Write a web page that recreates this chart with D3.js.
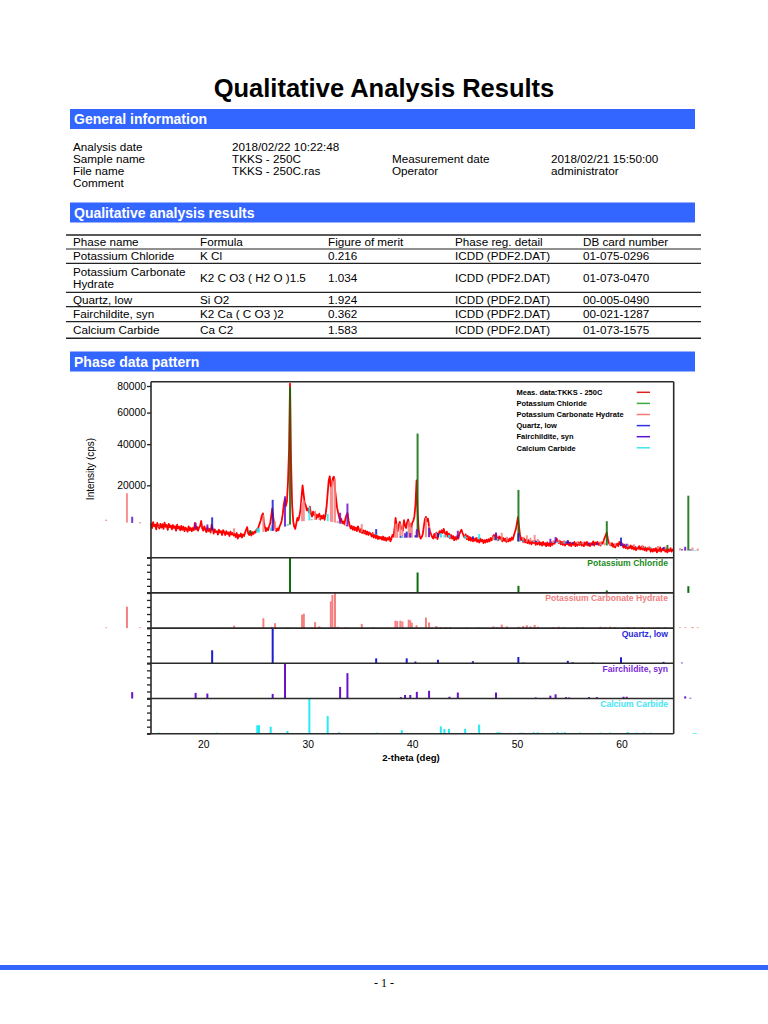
<!DOCTYPE html>
<html><head><meta charset="utf-8">
<script src="https://cdn.jsdelivr.net/npm/d3@7"></script>
<style>body{margin:0;background:#fff}</style>
</head><body><svg id="page" width="768" height="1024"></svg>
<script>
// ---------------- data ----------------
const pageTitle = "Qualitative Analysis Results";
const sectionTitles = ["General information", "Qualitative analysis results", "Phase data pattern"];
const infoLeft = [["Analysis date", "2018/02/22 10:22:48"], ["Sample name", "TKKS - 250C"], ["File name", "TKKS - 250C.ras"], ["Comment", ""]];
const infoRight = [null, ["Measurement date", "2018/02/21 15:50:00"], ["Operator", "administrator"], null];
const tableHeader = ["Phase name", "Formula", "Figure of merit", "Phase reg. detail", "DB card number"];
const tableRows = [
  [["Potassium Chloride"], "K Cl", "0.216", "ICDD (PDF2.DAT)", "01-075-0296"],
  [["Potassium Carbonate", "Hydrate"], "K2 C O3 ( H2 O )1.5", "1.034", "ICDD (PDF2.DAT)", "01-073-0470"],
  [["Quartz, low"], "Si O2", "1.924", "ICDD (PDF2.DAT)", "00-005-0490"],
  [["Fairchildite, syn"], "K2 Ca ( C O3 )2", "0.362", "ICDD (PDF2.DAT)", "00-021-1287"],
  [["Calcium Carbide"], "Ca C2", "1.583", "ICDD (PDF2.DAT)", "01-073-1575"]
];
const measLabel = "Meas. data:TKKS - 250C";
const phaseNames = ["Potassium Chloride", "Potassium Carbonate Hydrate", "Quartz, low", "Fairchildite, syn", "Calcium Carbide"];
const yTicks = [20000, 40000, 60000, 80000];
const xTicks = [20, 30, 40, 50, 60];
const xTitle = "2-theta (deg)";
const yTitle = "Intensity (cps)";
const pageNumber = "- 1 -";

// measured scan: start angle, step (deg) and counts (cps), one row per degree
const scanStart = 15.0, scanStep = 0.1;
const measuredCounts = [
7600,6500,7900,6900,7300,6200,7700,7000,6400,7500,
6600,7400,6300,7800,6800,7200,6100,7500,6700,7100,
6200,7200,6500,6900,5900,7300,6400,6800,6000,7000,
6100,6800,5800,6600,6200,5700,6900,6000,6500,5800,
6500,6000,7700,6200,6800,5900,6600,7000,8200,6400,
5900,6900,6200,5600,6700,5800,6300,5500,7300,6400,
5300,6200,5600,5900,5100,6100,5500,5800,5000,6000,
5600,5000,5800,5200,5500,4800,5700,5100,5400,4900,
5200,4600,5400,4300,5000,4700,5300,4500,5100,4800,
5500,6100,6700,5300,5000,5800,4900,5600,5200,5700,
5500,6200,6000,6900,7600,8400,9600,10300,7900,6600,
5800,6500,6000,6900,7600,9500,11800,9000,7200,6300,
5800,6400,6000,6900,7400,8300,10000,13000,14800,12500,
14000,21000,36000,82000,30000,13000,8200,6800,6300,7600,
9000,8400,9600,11500,15500,20000,16500,13500,12800,11200,
11800,10600,12300,10200,9400,10800,9800,10400,8800,9900,
9200,10200,8600,9600,8900,9800,8500,10000,12500,17000,
22000,23800,19500,20800,23000,23600,18500,15000,12000,10500,
9200,8200,8800,7600,8100,7400,8900,9800,10400,8300,
7200,6400,7000,6100,6800,6000,6600,5800,6900,6100,
5600,6300,5400,6000,5300,5900,5100,5700,5000,5500,
5200,4700,5400,4500,5000,4400,4900,4200,4700,4300,
4600,4100,4700,4000,4500,3900,4400,4100,4600,3800,
4300,5000,4700,6500,9000,7000,5800,7200,8000,6300,
6800,5900,8400,7100,6500,7900,8600,6900,7500,6600,
7800,8300,9500,13000,22000,11000,6200,4800,4300,4600,
5200,6900,8700,9300,8200,8800,6800,5600,5100,4600,
4300,5200,4500,5500,4200,5000,5800,5300,6000,5400,
6300,5500,5000,5700,4700,5300,4400,5000,4300,4800,
4000,4600,4100,4800,4300,5200,5700,6100,5400,4900,
4500,5100,4200,4800,4000,4600,3900,4400,3800,4300,
3900,4400,3700,4200,3600,4300,3800,4100,3500,4000,
3600,4100,3700,4200,3800,4400,4000,4700,5000,4600,
5200,4400,4000,4700,4200,4600,3800,4400,3900,4300,
3700,4200,3800,4300,3900,4500,4100,4800,5500,6200,
7600,9200,6800,5000,4000,4400,3700,4300,3600,4100,
3500,4000,3400,3900,3300,3800,3500,3900,3200,3700,
3300,3800,3200,3600,3100,3700,3200,3500,3000,3600,
3100,3500,3000,3600,3200,3700,3400,3900,4300,3800,
3500,3900,3300,3700,3200,3800,3100,3600,3300,3700,
3100,3600,3000,3500,3200,3700,3000,3500,3100,3600,
3200,3700,3100,3500,3000,3600,3200,3700,3100,3400,
3000,3500,3200,3800,3100,3600,3300,3700,3200,3500,
3100,3600,3400,3900,4500,5000,5500,4200,3500,3200,
3100,3500,2900,3300,2800,3200,3400,3000,3700,3300,
3600,3100,2800,3200,2700,3100,2600,3000,2700,3100,
2600,3000,2500,2900,2400,2800,2600,3000,2500,2900,
2500,2900,2400,2800,2300,2700,2500,2800,2200,2600,
2200,2600,2300,2700,2100,2500,2300,2800,2200,2600,
2400,2700,2200,2600,2100,2500,2300,2700,2200,2500,
2400
];

// background estimate under the pattern [2theta, cps]
const background = [[10,8400],[12.7,7800],[14,7600],[15,7000],[20,6200],[24,5100],[27,6000],[29,8000],[31,8600],[33,7600],
  [35,5700],[38,4400],[42,4600],[45,4300],[50,3800],[55,3400],[60,3000],[65,2400],[68,2300]];

// reference sticks [2theta, relative intensity %]
const sticksKCl = [[24.5,1],[28.3,100],[40.5,58],[47.9,1],[50.15,20],[58.6,7],[64.4,1],[66.4,19]];
const sticksPCH = [[10.7,2],[12.7,61],[13.95,2],[21.3,1],[22.95,7],[25.75,28],[26.55,4],[26.87,14],[28.1,2],[29.45,38],
  [29.62,41],[30.38,2],[30.7,17],[31.1,5],[32.2,76],[32.35,94],[32.6,100],[32.86,4],[33.57,2],[33.73,2],[35.16,12],[36.27,2],
  [38.38,21],[38.55,20],[38.85,21],[39.05,19],[39.65,24],[39.8,22],[39.95,15],[40.4,8],[41.3,30],[41.6,16],[42.3,6],[42.75,3],
  [43.2,3],[43.6,3],[45.2,2],[46.3,3],[47.75,5],[48.1,3],[48.55,10],[49.04,5],[50.15,4],[50.6,6],[50.95,8],[51.3,5],[51.7,9],
  [52.0,4],[53.5,3],[54.0,4],[54.5,3],[55.8,3],[56.3,3],[58.0,4],[58.4,3],[58.9,4],[59.4,3],[60.6,3],[61.2,3],[62.0,3],[62.6,2],
  [63.5,3],[64.2,3],[65.6,2],[66.1,2],[66.8,3],[67.3,2]];
const sticksQuartz = [[20.85,37],[26.64,100],[36.54,14],[39.46,14],[40.29,5],[42.45,10],[45.79,6],[50.14,18],[50.62,2],
  [54.87,7],[55.33,3],[57.24,2],[59.96,17],[64.03,4],[65.8,2]];
const sticksFair = [[13.2,18],[19.27,16],[20.39,14],[26.64,13],[27.82,100],[33.09,33],[33.79,72],[38.9,4],[39.3,10],[39.8,10],
  [40.43,19],[41.6,22],[43.55,5],[44.35,17],[48.0,17],[51.8,3],[53.2,8],[53.7,12],[54.7,4],[55.0,3],[56.9,4],[57.65,4],
  [60.2,5],[60.5,5],[66.1,6],[66.6,2]];
const sticksCaC2 = [[15.77,3],[21.28,3],[25.17,24],[25.33,24],[26.45,20],[28.05,8],[30.15,100],[31.9,50],[33.0,4],[35.4,2],
  [36.6,3],[38.99,10],[42.72,21],[43.07,13],[43.5,14],[45.05,14],[46.39,26],[48.15,4],[48.35,4],[50.3,3],[50.6,3],[51.6,4],
  [52.0,4],[53.4,3],[53.9,4],[54.3,3],[54.6,4],[56.05,3],[58.0,3],[58.9,3],[60.6,5],[61.5,3],[62.2,3],[62.8,3],[66.9,2],[67.1,2]];
const phaseSticks = [sticksKCl, sticksPCH, sticksQuartz, sticksFair, sticksCaC2];
// cps that 100 % corresponds to in the overlay on the measured pattern
const overlayScale = [72000, 15000, 8700, 9000, 4000];

// ---------------- styles / layout ----------------
const FONT = "'Liberation Sans', Arial, Helvetica, sans-serif";
const BLUE = "#3366ff";
const measColor = "#ff0000";
const phaseColors = ["#0b6e0b", "#f58080", "#1c1cd0", "#6812cc", "#22eaf6"];
const labelColors = ["#1a8a1a", "#f08080", "#2a2ad8", "#7a28d8", "#44e4f4"];
const legendColors = ["#dd2222", "#3daa3d", "#f07878", "#3030e0", "#6010d0", "#40e8f0"];

const svg = d3.select("#page");

function txt(x, y, s, font, opts = {}) {
  return svg.append("text").attr("x", x).attr("y", y)
    .attr("text-anchor", opts.anchor || "start")
    .attr("fill", opts.fill || "#000")
    .style("font", font).text(s);
}

// title
txt(384, 97, pageTitle, `bold 25.5px ${FONT}`, {anchor: "middle"});

// section bars
const barTops = [109, 202.5, 351.5];
sectionTitles.forEach((t, i) => {
  svg.append("rect").attr("x", 70).attr("y", barTops[i]).attr("width", 625).attr("height", 20).attr("fill", BLUE);
  txt(74, barTops[i] + 15, t, `bold 14px ${FONT}`, {fill: "#fff"});
});

// general information
const infoFont = `11.7px ${FONT}`;
infoLeft.forEach((r, i) => {
  const yy = 151 + i * 12;
  txt(73, yy, r[0], infoFont);
  txt(232, yy, r[1], infoFont);
  if (infoRight[i]) { txt(392, yy, infoRight[i][0], infoFont); txt(551, yy, infoRight[i][1], infoFont); }
});

// results table
const colX = [73, 200, 328, 455, 583];
const tableLines = [235, 249, 263.3, 292.3, 306.7, 321.7, 338.3];
tableLines.forEach((ly, i) => {
  svg.append("line").attr("x1", 66).attr("x2", 701).attr("y1", ly).attr("y2", ly)
    .attr("stroke", "#222").attr("stroke-width", (i === 0 || i === tableLines.length - 1) ? 1.6 : 1.2);
});
tableHeader.forEach((h, c) => txt(colX[c], 246, h, infoFont));
tableRows.forEach((row, r) => {
  const top = tableLines[r + 1], bot = tableLines[r + 2];
  const mid = (top + bot) / 2;
  const names = row[0];
  names.forEach((n, k) => txt(colX[0], mid + 4 + (k - (names.length - 1) / 2) * 12.3, n, infoFont));
  row.slice(1).forEach((v, c) => txt(colX[c + 1], mid + 4, v, infoFont));
});

// ---------------- chart ----------------
const plotLeft = 151, plotRight = 673.7, plotTop = 381.7, mainBottom = 557.7, panelH = 35.2;
const chartBottom = mainBottom + panelH * 5;
const x = d3.scaleLinear().domain([15, 65]).range([plotLeft, plotRight]);
const y = d3.scaleSqrt().domain([1470, 83500]).range([mainBottom, plotTop]);

const measured = measuredCounts.map((c, i) => [scanStart + i * scanStep, c]);

const bgAt = t => {
  for (let i = 0; i < background.length - 1; i++) {
    const a = background[i], b = background[i + 1];
    if (t >= a[0] && t <= b[0]) return a[1] + (b[1] - a[1]) * (t - a[0]) / (b[0] - a[0]);
  }
  return background[background.length - 1][1];
};

// measured curve
svg.append("path").datum(measured)
  .attr("d", d3.line().x(d => x(d[0])).y(d => y(d[1])))
  .attr("fill", "none").attr("stroke", measColor).attr("stroke-width", 1.8).attr("stroke-linejoin", "round");

// overlay sticks on the pattern
phaseSticks.forEach((sticks, p) => {
  svg.append("g").selectAll("line").data(sticks).join("line")
    .attr("x1", d => x(d[0])).attr("x2", d => x(d[0]))
    .attr("y1", d => y(bgAt(d[0])))
    .attr("y2", d => y(bgAt(d[0]) + d[1] / 100 * overlayScale[p]))
    .attr("stroke", phaseColors[p]).attr("stroke-width", 2).attr("opacity", 0.85);
});

// stick panels
phaseSticks.forEach((sticks, p) => {
  const top = mainBottom + p * panelH, bot = top + panelH;
  const py = d3.scaleLinear().domain([0, 100]).range([bot, top]);
  svg.append("g").selectAll("line").data(sticks).join("line")
    .attr("x1", d => x(d[0])).attr("x2", d => x(d[0]))
    .attr("y1", py(0)).attr("y2", d => py(d[1]))
    .attr("stroke", phaseColors[p]).attr("stroke-width", 2);
  const ga = svg.append("g").attr("transform", `translate(${plotLeft},0)`)
    .call(d3.axisLeft(py).tickValues([0, 20, 40, 60, 80, 100]).tickSize(4).tickSizeOuter(0).tickFormat(""));
  ga.select(".domain").remove();
  ga.selectAll("line").attr("stroke", "#222").attr("stroke-width", 1.3);
  txt(668, top + 8.5, phaseNames[p], `bold 8.6px ${FONT}`, {anchor: "end", fill: labelColors[p]});
});

// y axis of main plot
const gy = svg.append("g").attr("transform", `translate(${plotLeft},0)`)
  .call(d3.axisLeft(y).tickValues(yTicks).tickSize(4).tickSizeOuter(0).tickPadding(1).tickFormat(d3.format("d")));
gy.select(".domain").remove();
gy.selectAll("line").attr("stroke", "#222").attr("stroke-width", 1.3);
gy.selectAll("text").style("font", `10.3px ${FONT}`).attr("fill", "#000");

// x axis
const gx = svg.append("g").attr("transform", `translate(0,${chartBottom})`)
  .call(d3.axisBottom(x).tickValues(xTicks).tickSize(0).tickPadding(7).tickFormat(d3.format("d")));
gx.select(".domain").remove();
gx.selectAll("text").style("font", `10.3px ${FONT}`).attr("fill", "#000");

// frame and separators
const frame = svg.append("g").attr("stroke", "#2a2a2a").attr("stroke-width", 1.6).attr("fill", "none");
frame.append("line").attr("x1", plotLeft).attr("x2", plotLeft).attr("y1", plotTop).attr("y2", chartBottom);
frame.append("line").attr("x1", plotRight).attr("x2", plotRight).attr("y1", plotTop).attr("y2", chartBottom);
frame.append("line").attr("x1", plotLeft).attr("x2", plotRight).attr("y1", plotTop).attr("y2", plotTop);
for (let k = 0; k <= 5; k++) {
  const ly = mainBottom + k * panelH;
  frame.append("line").attr("x1", plotLeft - 4).attr("x2", plotRight).attr("y1", ly).attr("y2", ly);
}

// axis titles
txt(411, 761, xTitle, `bold 9.6px ${FONT}`, {anchor: "middle"});
svg.append("text").attr("transform", "translate(94,469) rotate(-90)").attr("text-anchor", "middle")
  .style("font", `10px ${FONT}`).text(yTitle);

// legend
const legendLabels = [measLabel].concat(phaseNames);
legendLabels.forEach((l, i) => {
  const cy = 392.3 + i * 11.1;
  txt(516.5, cy + 2.7, l, `bold 7.5px ${FONT}`);
  svg.append("line").attr("x1", 636.7).attr("x2", 650).attr("y1", cy).attr("y2", cy)
    .attr("stroke", legendColors[i]).attr("stroke-width", 1.5);
});

// footer
svg.append("rect").attr("x", 0).attr("y", 965).attr("width", 768).attr("height", 5).attr("fill", BLUE);
txt(384, 987, pageNumber, `12px 'Liberation Serif', 'Times New Roman', serif`, {anchor: "middle"});
</script>
</body></html>
